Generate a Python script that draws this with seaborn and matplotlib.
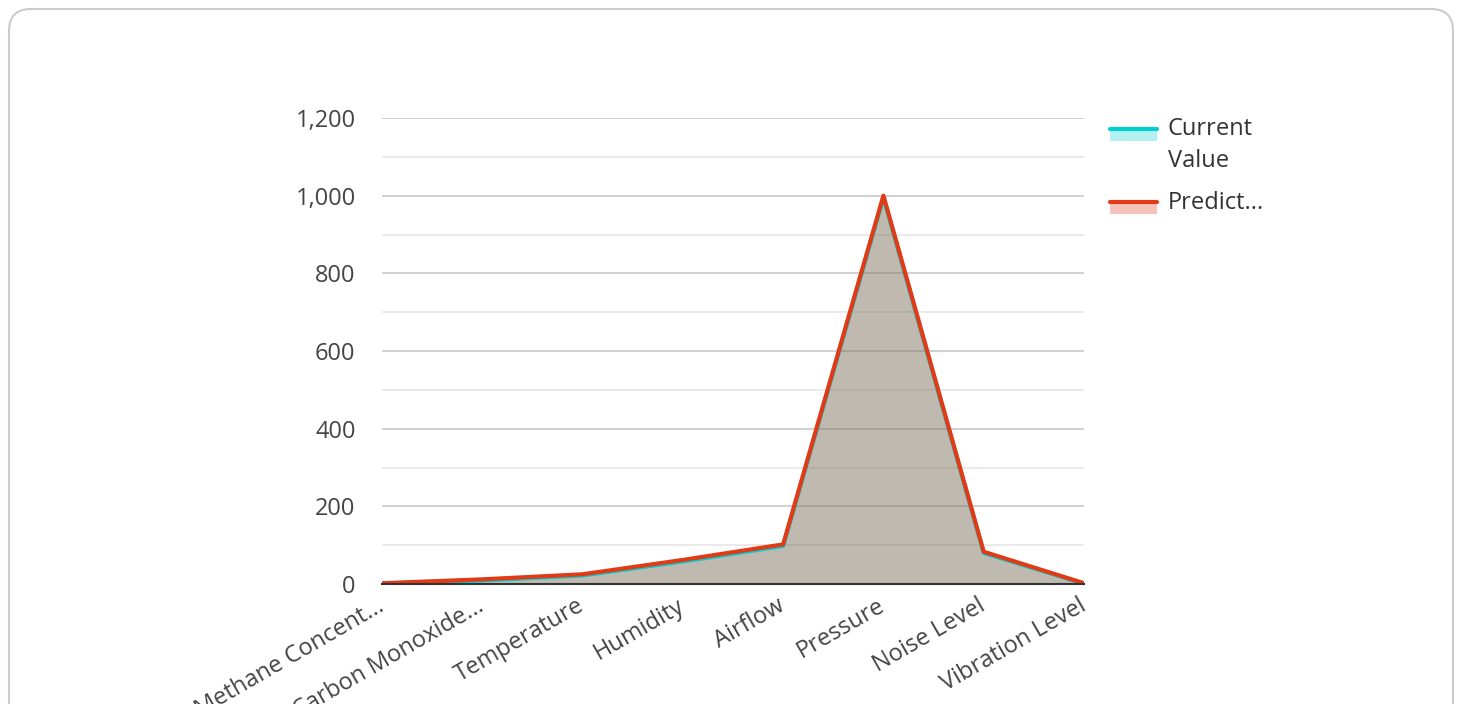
import numpy as np
import pandas as pd
import matplotlib
matplotlib.use("Agg")
import matplotlib.pyplot as plt
import seaborn as sns
from matplotlib.patches import FancyBboxPatch, Rectangle
from matplotlib.lines import Line2D
from matplotlib.legend_handler import HandlerBase
from matplotlib.transforms import ScaledTranslation

categories = ["Methane Concent...", "Carbon Monoxide...", "Temperature", "Humidity",
              "Airflow", "Pressure", "Noise Level", "Vibration Level"]
current_value = [1, 9, 22, 58, 98, 995, 80, 1]
predicted_value = [2, 12, 25, 62, 102, 1000, 83, 2]
series_names = ["Current\nValue", "Predict..."]
y_ticks = [0, 200, 400, 600, 800, 1000, 1200]

teal = "#00CED1"
red = "#E03A17"

sns.set_theme(style="white")
plt.rcParams["font.family"] = ["Open Sans", "DejaVu Sans"]

fig = plt.figure(figsize=(14.6, 7.04), dpi=100)
ax = fig.add_axes([382 / 1460, 1 - 584 / 704, 702 / 1460, 466 / 704])

df = pd.DataFrame({"x": np.arange(len(categories)),
                   "current": current_value, "predicted": predicted_value})

for col, color in (("current", teal), ("predicted", red)):
    ax.fill_between(df["x"], 0, df[col], color=color, alpha=0.3, linewidth=0, zorder=2)
for col, color in (("current", teal), ("predicted", red)):
    sns.lineplot(data=df, x="x", y=col, ax=ax, color=color, linewidth=3, zorder=3)

ax.set_xlim(0, len(categories) - 1)
ax.set_ylim(0, 1200)
ax.set_yticks(y_ticks)
ax.set_yticklabels([f"{v:,}" for v in y_ticks])
ax.set_yticks(np.arange(100, 1200, 200), minor=True)
ax.set_xticks(df["x"])
ax.set_xticklabels(categories, rotation=30, ha="right", rotation_mode="anchor")
ax.set_xlabel("")
ax.set_ylabel("")
ax.grid(axis="y", which="major", color="#c8c8c8", linewidth=1.2, zorder=1)
ax.grid(axis="y", which="minor", color="#e6e6e6", linewidth=1.2, zorder=1)
ax.grid(axis="x", visible=False)
for side in ("top", "right", "left"):
    ax.spines[side].set_visible(False)
ax.spines["bottom"].set_color("#333333")
ax.spines["bottom"].set_linewidth(1.5)
ax.spines["bottom"].set_zorder(4)
ax.tick_params(axis="both", which="both", length=0, labelsize=17, colors="#444444")
ax.tick_params(axis="y", pad=19)
ax.tick_params(axis="x", pad=5)

# nudge the slanted category labels so their ends sit under the ticks
shift = ScaledTranslation(-6 / 100, -3 / 100, fig.dpi_scale_trans)
for lbl in ax.get_xticklabels():
    lbl.set_transform(lbl.get_transform() + shift)


class LineOverFill(HandlerBase):
    """Legend key: a solid line with a translucent band beneath it."""

    def create_artists(self, legend, orig_handle, xdescent, ydescent, width, height, fontsize, trans):
        color = orig_handle.get_color()
        dy = getattr(orig_handle, "key_offset", 0.0)
        top = -ydescent + height * 0.68 + dy
        band = 8.6
        rect = Rectangle((-xdescent, top - band), width, band,
                         facecolor=color, alpha=0.3, edgecolor="none", transform=trans)
        line = Line2D([-xdescent, -xdescent + width], [top, top],
                      color=color, linewidth=3, transform=trans)
        return [rect, line]


handles = [Line2D([], [], color=teal), Line2D([], [], color=red)]
# keys sit beside the first line of each label (points)
handles[0].key_offset = 10.0
handles[1].key_offset = -2.9

leg = fig.legend(handles, series_names, loc="upper left",
                 bbox_to_anchor=(1110 / 1460, 1 - 117 / 704),
                 borderpad=0, borderaxespad=0,
                 frameon=False, fontsize=17, handlelength=2.0, handletextpad=0.45,
                 labelspacing=0.79, handler_map={Line2D: LineOverFill()})
for t in leg.get_texts():
    t.set_color("#333333")
    t.set_linespacing(1.42)

border = FancyBboxPatch((9 / 1460, -0.05), 1444 / 1460, 1.05 - 9 / 704,
                        boxstyle="round,pad=0,rounding_size=0.015",
                        transform=fig.transFigure, facecolor="none",
                        edgecolor="#cccccc", linewidth=1.5, mutation_aspect=1460 / 704)
fig.patches.append(border)

fig.savefig("out.png", dpi=100)
